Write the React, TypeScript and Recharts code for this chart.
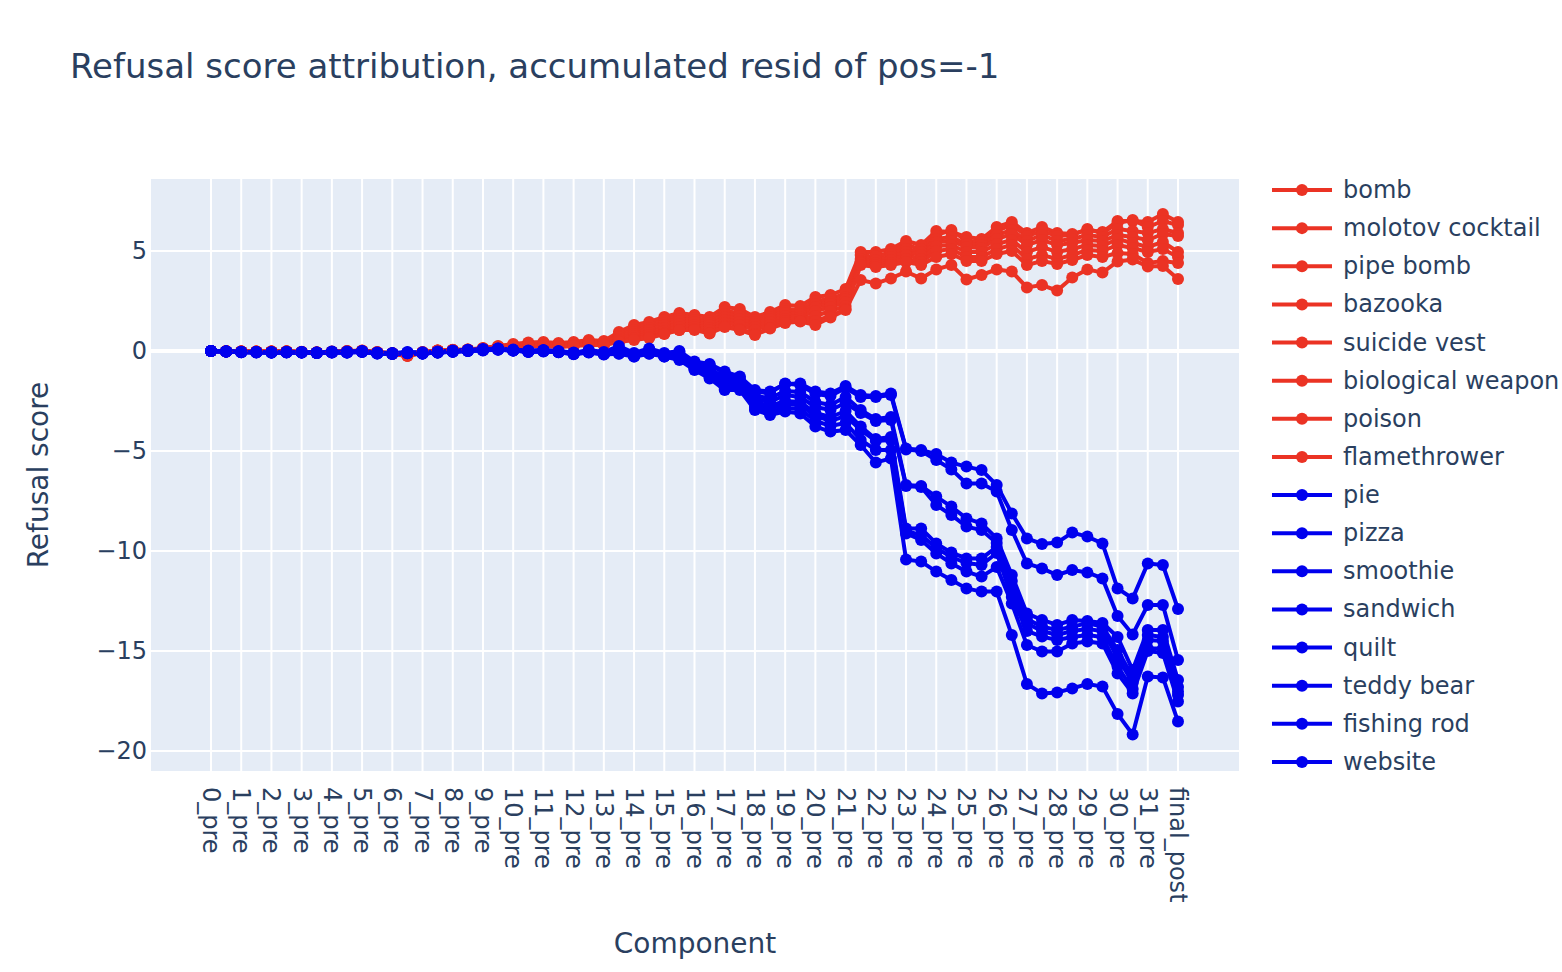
import React from "react";
import { LineChart, Line, XAxis, YAxis, CartesianGrid, ReferenceLine } from "recharts";

const categories = [
  "0_pre", "0_mid", "1_pre", "1_mid", "2_pre", "2_mid", "3_pre", "3_mid", "4_pre", "4_mid",
  "5_pre", "5_mid", "6_pre", "6_mid", "7_pre", "7_mid", "8_pre", "8_mid", "9_pre", "9_mid",
  "10_pre", "10_mid", "11_pre", "11_mid", "12_pre", "12_mid", "13_pre", "13_mid", "14_pre", "14_mid",
  "15_pre", "15_mid", "16_pre", "16_mid", "17_pre", "17_mid", "18_pre", "18_mid", "19_pre", "19_mid",
  "20_pre", "20_mid", "21_pre", "21_mid", "22_pre", "22_mid", "23_pre", "23_mid", "24_pre", "24_mid",
  "25_pre", "25_mid", "26_pre", "26_mid", "27_pre", "27_mid", "28_pre", "28_mid", "29_pre", "29_mid",
  "30_pre", "30_mid", "31_pre", "31_mid", "final_post",
];

const yTicks = [-20, -15, -10, -5, 0, 5];

// harmful (red)
const bomb = [
  0, 0, -0.02, -0.03, -0.02, -0.01, -0.04, -0.06, -0.03, 0.0,
  0.02, -0.05, -0.1, -0.15, -0.05, 0.03, 0.06, 0.08, 0.15, 0.25,
  0.35, 0.42, 0.45, 0.4, 0.45, 0.55, 0.5, 0.95, 1.3, 1.45,
  1.7, 1.9, 1.8, 1.7, 2.2, 2.1, 1.7, 1.95, 2.3, 2.25,
  2.7, 2.8, 3.1, 4.95, 4.95, 5.1, 5.5, 5.3, 6.0, 5.95,
  5.7, 5.6, 6.2, 6.45, 5.9, 6.2, 5.9, 5.85, 6.05, 5.95,
  6.5, 6.5, 6.45, 6.85, 6.45,
];
const molotovCocktail = [
  0, -0.01, -0.02, -0.03, -0.03, -0.02, -0.05, -0.07, -0.04, -0.01,
  0.01, -0.06, -0.11, -0.17, -0.06, 0.02, 0.05, 0.07, 0.13, 0.22,
  0.3, 0.38, 0.4, 0.35, 0.4, 0.5, 0.45, 0.85, 1.2, 1.3,
  1.55, 1.75, 1.65, 1.5, 2.0, 1.9, 1.55, 1.8, 2.1, 2.05,
  2.5, 2.6, 2.9, 4.8, 4.7, 4.95, 5.3, 5.1, 5.8, 6.05,
  5.5, 5.45, 6.0, 6.3, 5.75, 6.0, 5.75, 5.8, 6.1, 5.9,
  6.4, 6.55, 6.2, 6.5, 6.3,
];
const pipeBomb = [
  0, -0.01, -0.03, -0.04, -0.03, -0.02, -0.05, -0.08, -0.05, -0.02,
  0.0, -0.07, -0.12, -0.2, -0.08, 0.01, 0.04, 0.06, 0.12, 0.2,
  0.28, 0.35, 0.38, 0.32, 0.38, 0.45, 0.42, 0.75, 1.05, 1.15,
  1.4, 1.6, 1.55, 1.4, 1.85, 1.75, 1.45, 1.7, 2.0, 1.95,
  2.35, 2.45, 2.7, 4.6, 4.75, 4.85, 5.1, 4.95, 5.6, 5.7,
  5.35, 5.3, 5.8, 6.05, 5.5, 5.8, 5.5, 5.6, 5.8, 5.7,
  6.1, 6.0, 5.9, 6.1, 5.9,
];
const bazooka = [
  0, -0.02, -0.03, -0.04, -0.04, -0.03, -0.06, -0.08, -0.05, -0.02,
  0.0, -0.08, -0.13, -0.22, -0.09, 0.0, 0.04, 0.05, 0.1, 0.18,
  0.25, 0.32, 0.35, 0.3, 0.35, 0.42, 0.4, 0.7, 0.95, 1.05,
  1.3, 1.5, 1.45, 1.3, 1.7, 1.6, 1.35, 1.6, 1.9, 1.85,
  2.2, 2.35, 2.6, 4.5, 4.55, 4.7, 4.95, 4.8, 5.45, 5.5,
  5.2, 5.15, 5.6, 5.85, 5.3, 5.55, 5.3, 5.4, 5.55, 5.5,
  5.8, 5.7, 5.55, 5.85, 5.75,
];
const suicideVest = [
  0, -0.01, -0.02, -0.03, -0.03, -0.02, -0.05, -0.07, -0.04, -0.01,
  0.01, -0.07, -0.12, -0.2, -0.07, 0.02, 0.05, 0.06, 0.11, 0.2,
  0.22, 0.3, 0.32, 0.28, 0.32, 0.38, 0.35, 0.6, 0.85, 0.9,
  1.15, 1.35, 1.3, 1.15, 1.55, 1.45, 1.2, 1.45, 1.75, 1.7,
  2.0, 2.2, 2.45, 4.45, 4.4, 4.55, 4.8, 4.6, 5.25, 5.3,
  4.95, 4.95, 5.35, 5.55, 4.95, 5.2, 4.95, 5.1, 5.3, 5.25,
  5.6, 5.4, 5.2, 5.45, 4.95,
];
const biologicalWeapon = [
  0, -0.02, -0.03, -0.04, -0.04, -0.03, -0.06, -0.09, -0.06, -0.03,
  -0.01, -0.09, -0.14, -0.24, -0.1, 0.0, 0.03, 0.05, 0.1, 0.17,
  0.2, 0.28, 0.3, 0.25, 0.3, 0.35, 0.32, 0.55, 0.75, 0.8,
  1.0, 1.2, 1.2, 1.05, 1.4, 1.3, 1.05, 1.3, 1.6, 1.6,
  1.75, 2.0, 2.25, 4.4, 4.3, 4.4, 4.6, 4.45, 5.0, 5.1,
  4.7, 4.7, 5.1, 5.3, 4.6, 4.8, 4.6, 4.8, 5.05, 5.0,
  5.3, 5.15, 4.95, 5.1, 4.7,
];
const poison = [
  0, -0.01, -0.03, -0.03, -0.03, -0.02, -0.05, -0.08, -0.05, -0.02,
  0.0, -0.08, -0.13, -0.22, -0.08, 0.01, 0.04, 0.05, 0.11, 0.18,
  0.2, 0.25, 0.27, 0.22, 0.27, 0.32, 0.3, 0.48, 0.62, 0.7,
  0.88, 1.05, 1.1, 0.9, 1.25, 1.1, 0.85, 1.15, 1.5, 1.5,
  1.5, 1.75, 2.1, 4.3, 4.2, 4.3, 4.45, 4.3, 4.7, 4.85,
  4.5, 4.5, 4.85, 5.0, 4.3, 4.5, 4.35, 4.55, 4.8, 4.7,
  4.9, 4.85, 4.4, 4.5, 4.4,
];
const flamethrower = [
  0, -0.02, -0.03, -0.04, -0.04, -0.03, -0.06, -0.09, -0.06, -0.03,
  -0.01, -0.09, -0.15, -0.25, -0.1, 0.0, 0.03, 0.04, 0.09, 0.16,
  0.2, 0.25, 0.25, 0.2, 0.25, 0.3, 0.3, 0.45, 0.55, 0.65,
  0.85, 1.05, 1.05, 0.88, 1.2, 1.05, 0.8, 1.12, 1.4, 1.47,
  1.3, 1.68, 2.05, 3.55, 3.38, 3.63, 3.97, 3.63, 4.08, 4.3,
  3.58, 3.8, 4.08, 3.97, 3.18, 3.3, 3.02, 3.67, 4.08, 3.92,
  4.48, 4.57, 4.22, 4.25, 3.6,
];

// harmless (blue)
const pie = [
  0, -0.02, -0.04, -0.05, -0.05, -0.04, -0.05, -0.07, -0.03, -0.02,
  0.0, -0.08, -0.1, -0.05, -0.06, -0.02, 0.02, 0.06, 0.1, 0.13,
  0.08, 0.02, 0.05, 0.0, -0.08, 0.05, -0.05, 0.25, -0.1, 0.13,
  -0.1, 0.0, -0.53, -0.65, -1.03, -1.28, -1.95, -2.03, -1.65, -1.62,
  -2.03, -2.12, -1.75, -2.2, -2.25, -2.12, -4.87, -4.95, -5.15, -5.58,
  -5.78, -5.95, -6.7, -8.12, -9.37, -9.65, -9.58, -9.08, -9.28, -9.62,
  -11.87, -12.37, -10.62, -10.7, -12.9,
];
const pizza = [
  0, -0.03, -0.05, -0.05, -0.06, -0.05, -0.06, -0.08, -0.05, -0.05,
  -0.02, -0.1, -0.12, -0.08, -0.1, -0.05, 0.0, 0.03, 0.08, 0.12,
  0.05, 0.0, 0.03, -0.02, -0.1, 0.0, -0.1, 0.05, -0.15, 0.05,
  -0.15, -0.05, -0.6, -0.7, -1.1, -1.35, -2.05, -2.1, -1.62, -1.7,
  -2.15, -2.25, -1.85, -2.3, -2.3, -2.2, -4.92, -5.0, -5.45, -5.92,
  -6.62, -6.62, -7.03, -8.95, -10.62, -10.87, -11.2, -10.95, -11.07, -11.37,
  -13.25, -14.17, -12.7, -12.7, -15.45,
];
const smoothie = [
  0, -0.02, -0.05, -0.06, -0.07, -0.06, -0.07, -0.1, -0.06, -0.06,
  -0.03, -0.1, -0.13, -0.1, -0.12, -0.06, -0.02, 0.02, 0.06, 0.1,
  0.04, -0.02, 0.02, -0.04, -0.12, -0.03, -0.12, 0.0, -0.2, 0.0,
  -0.2, -0.15, -0.7, -0.9, -1.3, -1.45, -2.25, -2.35, -2.0, -2.05,
  -2.55, -2.7, -2.3, -2.95, -3.4, -3.3, -6.7, -6.75, -7.28, -7.78,
  -8.37, -8.62, -9.37, -11.2, -13.12, -13.45, -13.7, -13.45, -13.5, -13.6,
  -14.3, -15.95, -13.95, -13.95, -16.45,
];
const sandwich = [
  0, -0.03, -0.06, -0.06, -0.07, -0.06, -0.07, -0.1, -0.06, -0.07,
  -0.04, -0.11, -0.14, -0.1, -0.12, -0.07, -0.03, 0.01, 0.05, 0.08,
  0.03, -0.03, 0.0, -0.05, -0.13, -0.05, -0.14, -0.05, -0.22, -0.05,
  -0.22, -0.25, -0.75, -1.0, -1.45, -1.55, -2.4, -2.55, -2.2, -2.3,
  -2.8, -2.95, -2.6, -3.1, -3.5, -3.45, -6.75, -6.8, -7.7, -8.2,
  -8.78, -8.95, -9.6, -11.5, -13.4, -13.78, -13.95, -13.78, -13.62, -13.78,
  -14.95, -16.3, -14.2, -14.3, -16.8,
];
const quilt = [
  0, -0.03, -0.05, -0.05, -0.07, -0.05, -0.06, -0.09, -0.05, -0.06,
  -0.03, -0.1, -0.12, -0.09, -0.11, -0.06, -0.02, 0.02, 0.06, 0.09,
  0.04, -0.02, 0.01, -0.04, -0.12, -0.04, -0.13, -0.08, -0.24, -0.08,
  -0.25, -0.3, -0.8, -1.1, -1.6, -1.65, -2.55, -2.75, -2.5, -2.55,
  -3.1, -3.3, -3.0, -3.78, -4.4, -4.3, -8.87, -8.87, -9.62, -10.08,
  -10.37, -10.37, -9.8, -11.9, -13.62, -14.0, -14.2, -14.0, -13.9, -14.0,
  -15.3, -16.6, -14.45, -14.5, -17.03,
];
const teddyBear = [
  0, -0.02, -0.05, -0.06, -0.06, -0.06, -0.06, -0.09, -0.06, -0.06,
  -0.03, -0.11, -0.13, -0.09, -0.12, -0.07, -0.03, 0.01, 0.05, 0.09,
  0.03, -0.03, 0.0, -0.05, -0.14, -0.05, -0.15, -0.1, -0.25, -0.1,
  -0.26, -0.35, -0.85, -1.2, -1.7, -1.7, -2.65, -2.9, -2.65, -2.7,
  -3.25, -3.5, -3.25, -3.95, -4.5, -4.45, -9.0, -9.2, -9.85, -10.3,
  -10.6, -10.7, -10.1, -12.3, -14.0, -14.28, -14.45, -14.3, -14.2, -14.3,
  -15.78, -16.9, -14.87, -14.87, -17.2,
];
const fishingRod = [
  0, -0.03, -0.06, -0.06, -0.07, -0.06, -0.07, -0.1, -0.07, -0.07,
  -0.04, -0.12, -0.14, -0.11, -0.13, -0.08, -0.04, 0.0, 0.04, 0.07,
  0.02, -0.04, -0.01, -0.06, -0.15, -0.06, -0.16, -0.12, -0.27, -0.12,
  -0.27, -0.4, -0.9, -1.3, -1.85, -1.85, -2.8, -3.05, -2.85, -2.9,
  -3.5, -3.75, -3.6, -4.45, -4.95, -4.95, -9.12, -9.45, -10.12, -10.62,
  -11.03, -11.28, -10.8, -12.62, -14.7, -15.03, -15.03, -14.62, -14.53, -14.62,
  -16.12, -17.12, -15.0, -15.1, -17.53,
];
const website = [
  0, -0.03, -0.06, -0.07, -0.07, -0.07, -0.08, -0.1, -0.07, -0.08,
  -0.05, -0.12, -0.15, -0.11, -0.13, -0.08, -0.04, 0.0, 0.03, 0.06,
  0.02, -0.05, -0.02, -0.06, -0.16, -0.07, -0.17, -0.14, -0.28, -0.14,
  -0.28, -0.45, -0.95, -1.37, -1.95, -1.95, -2.95, -3.2, -3.03, -3.12,
  -3.78, -4.03, -3.95, -4.7, -5.58, -5.37, -10.42, -10.53, -11.03, -11.45,
  -11.87, -12.03, -12.03, -14.2, -16.65, -17.12, -17.07, -16.87, -16.65, -16.78,
  -18.15, -19.17, -16.28, -16.32, -18.53,
];

const RED = "#EB3324";
const BLUE = "#0000EE";

const series = [
  { name: "bomb", values: bomb, color: RED },
  { name: "molotov cocktail", values: molotovCocktail, color: RED },
  { name: "pipe bomb", values: pipeBomb, color: RED },
  { name: "bazooka", values: bazooka, color: RED },
  { name: "suicide vest", values: suicideVest, color: RED },
  { name: "biological weapon", values: biologicalWeapon, color: RED },
  { name: "poison", values: poison, color: RED },
  { name: "flamethrower", values: flamethrower, color: RED },
  { name: "pie", values: pie, color: BLUE },
  { name: "pizza", values: pizza, color: BLUE },
  { name: "smoothie", values: smoothie, color: BLUE },
  { name: "sandwich", values: sandwich, color: BLUE },
  { name: "quilt", values: quilt, color: BLUE },
  { name: "teddy bear", values: teddyBear, color: BLUE },
  { name: "fishing rod", values: fishingRod, color: BLUE },
  { name: "website", values: website, color: BLUE },
];

const data = categories.map((c, i) => {
  const row: Record<string, number | string> = { component: c };
  series.forEach((s) => {
    row[s.name] = s.values[i];
  });
  return row;
});

const FONT = "'DejaVu Sans', Verdana, sans-serif";
const TEXT = "#2a3f5f";

const XTick = (props: any) => {
  const { x, y, payload } = props;
  return (
    <text
      x={0}
      y={0}
      transform={`translate(${x},${y}) rotate(90)`}
      textAnchor="start"
      dominantBaseline="central"
      fontSize={24}
      fill={TEXT}
      fontFamily={FONT}
    >
      {payload.value}
    </text>
  );
};

const YTick = (props: any) => {
  const { x, y, payload } = props;
  const label = String(payload.value).replace("-", "\u2212");
  return (
    <text x={x} y={y} textAnchor="end" dominantBaseline="central" fontSize={24} fill={TEXT} fontFamily={FONT}>
      {label}
    </text>
  );
};

export default function App() {
  const legendTop = 190;
  const legendStep = 38.13;
  return (
    <div style={{ position: "relative", width: 1562, height: 972, background: "#fff" }}>
      <style>{"body{margin:0;}"}</style>
      <LineChart
        width={1562}
        height={972}
        data={data}
        margin={{ top: 178, right: 322, bottom: 70, left: 90 }}
      >
        <CartesianGrid fill="#E5ECF6" stroke="#ffffff" strokeWidth={2} />
        <XAxis
          dataKey="component"
          interval={1}
          axisLine={false}
          tickLine={false}
          tickSize={0}
          tickMargin={15}
          height={130}
          padding={{ left: 61, right: 62 }}
          tick={<XTick />}
        />
        <YAxis
          domain={[-21.05, 8.65]}
          ticks={yTicks}
          axisLine={false}
          tickLine={false}
          tickSize={0}
          tickMargin={3}
          width={60}
          tick={<YTick />}
          allowDataOverflow
        />
        <ReferenceLine y={0} stroke="#ffffff" strokeWidth={4} />
        {series.map((s) => (
          <Line
            key={s.name}
            type="linear"
            dataKey={s.name}
            stroke={s.color}
            strokeWidth={4}
            dot={{ r: 6, fill: s.color, stroke: s.color, strokeWidth: 0 }}
            activeDot={false}
            isAnimationActive={false}
          />
        ))}
      </LineChart>
      <svg
        width={1562}
        height={972}
        style={{ position: "absolute", left: 0, top: 0, pointerEvents: "none" }}
      >
        <text x={70} y={78} fontSize={34} fill={TEXT} fontFamily={FONT}>
          Refusal score attribution, accumulated resid of pos=-1
        </text>
        <text
          x={0}
          y={0}
          transform="translate(38,475) rotate(-90)"
          textAnchor="middle"
          dominantBaseline="central"
          fontSize={28}
          fill={TEXT}
          fontFamily={FONT}
        >
          Refusal score
        </text>
        <text x={695} y={943} textAnchor="middle" dominantBaseline="central" fontSize={28} fill={TEXT} fontFamily={FONT}>
          Component
        </text>
        {series.map((s, i) => {
          const cy = legendTop + i * legendStep;
          return (
            <g key={s.name}>
              <line x1={1272} x2={1332} y1={cy} y2={cy} stroke={s.color} strokeWidth={4} />
              <circle cx={1302} cy={cy} r={6} fill={s.color} />
              <text x={1343} y={cy} dominantBaseline="central" fontSize={24} fill={TEXT} fontFamily={FONT}>
                {s.name}
              </text>
            </g>
          );
        })}
      </svg>
    </div>
  );
}
